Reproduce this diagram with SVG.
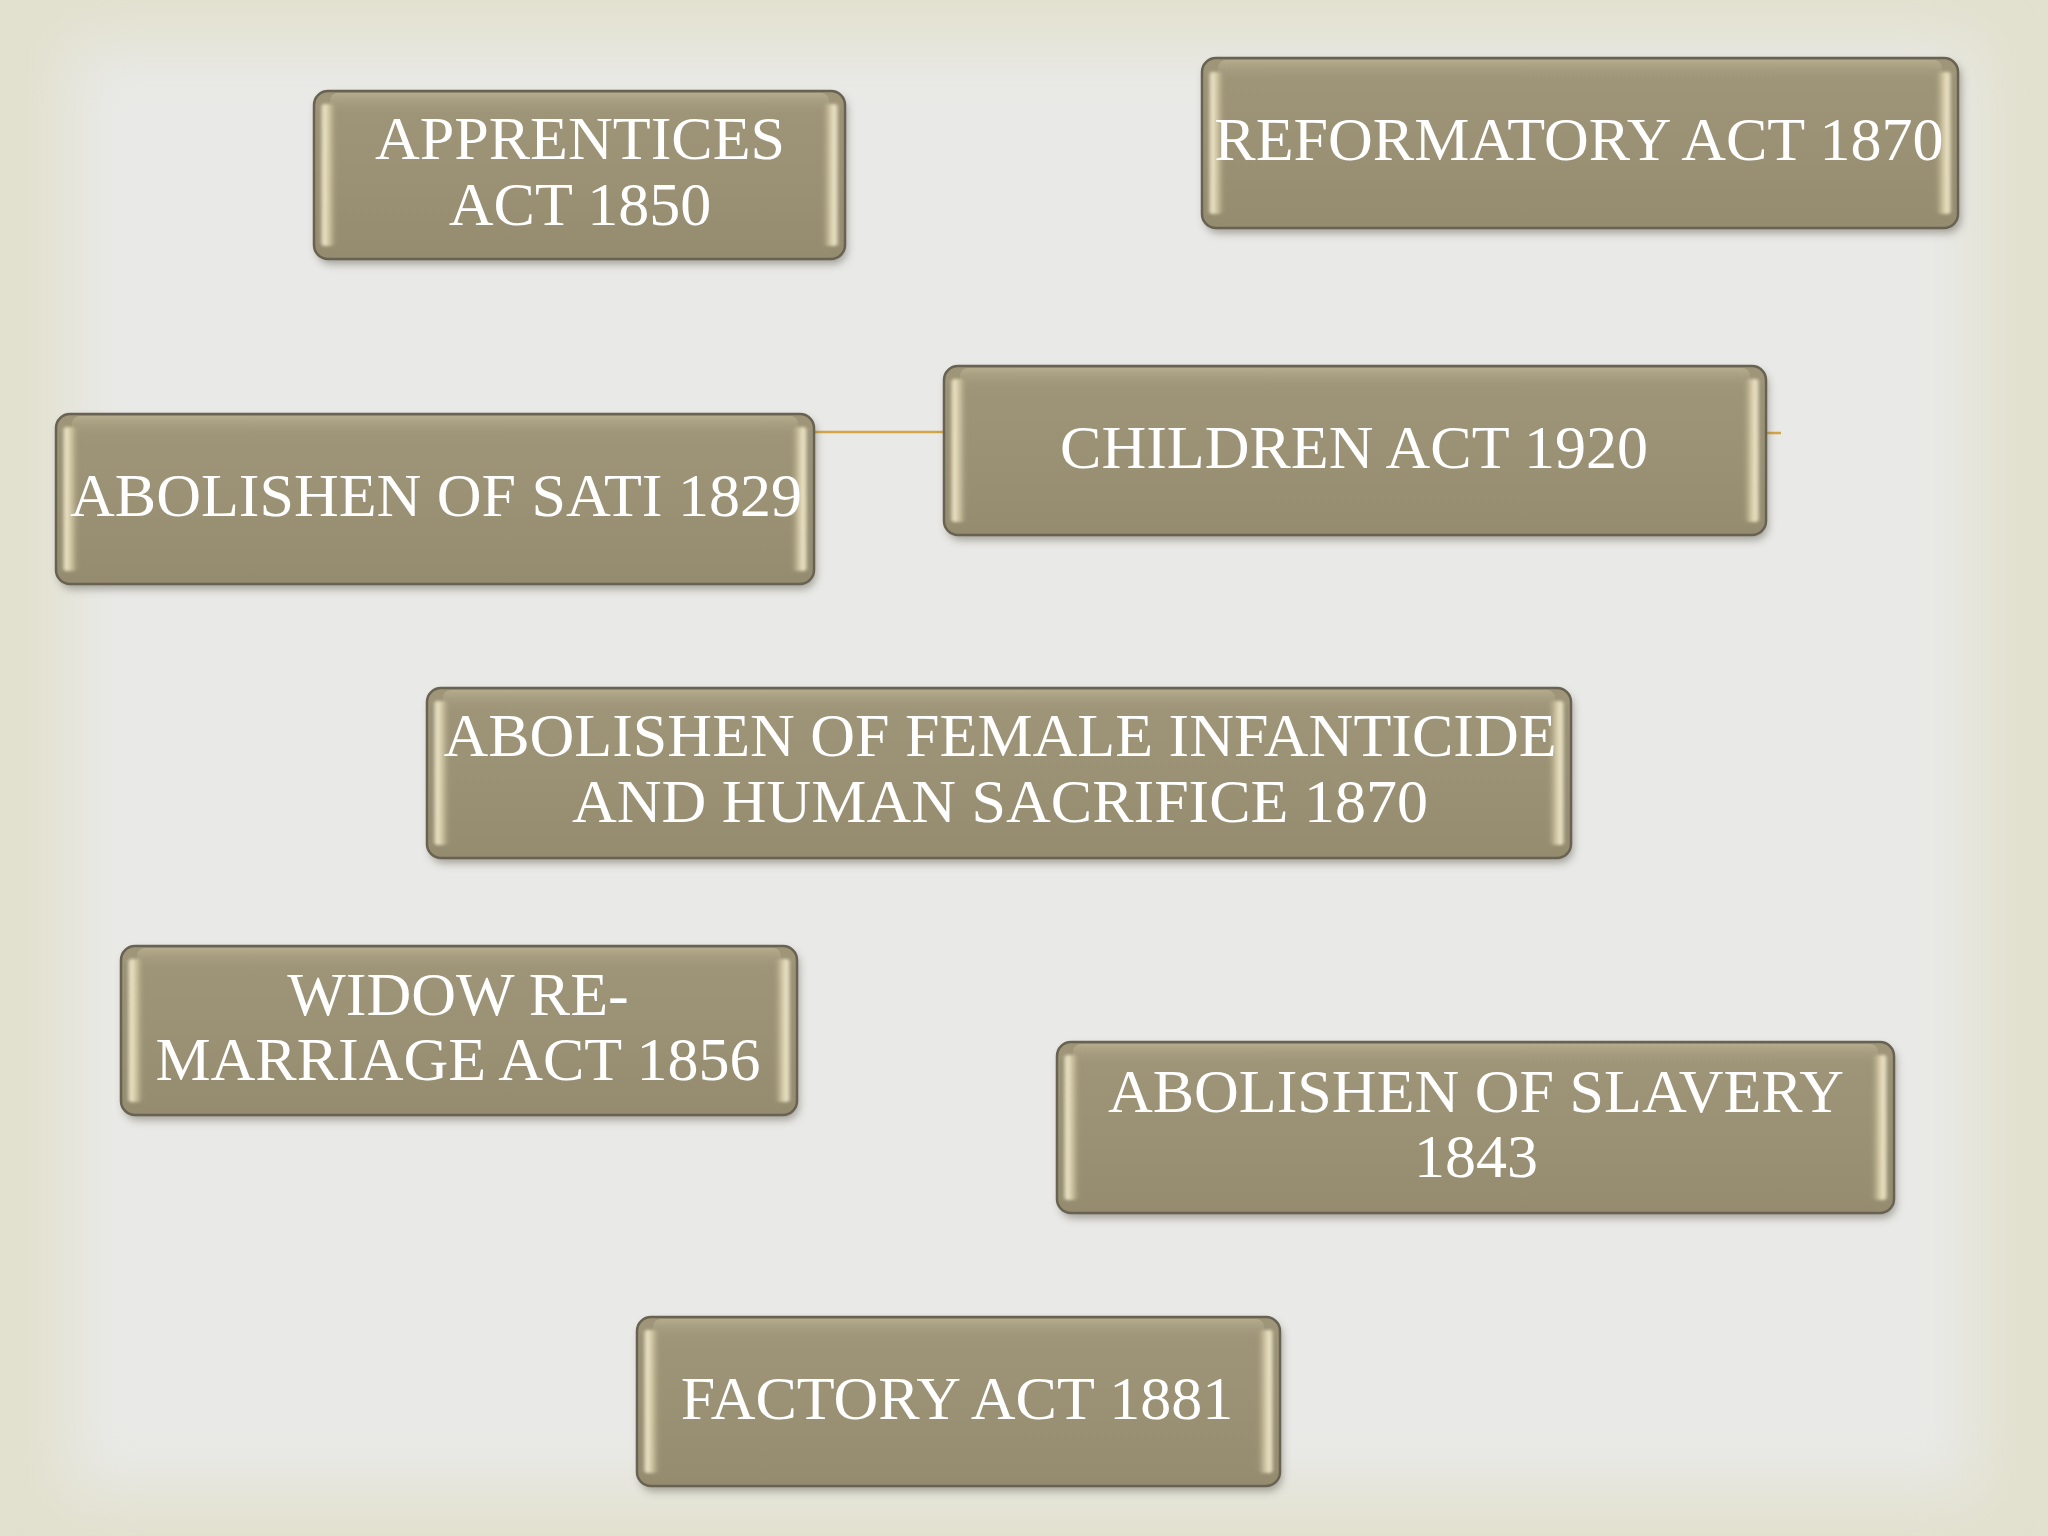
<svg xmlns="http://www.w3.org/2000/svg" width="2048" height="1536" viewBox="0 0 2048 1536">
<defs>
<filter id="bgBlur" x="-5%" y="-5%" width="110%" height="110%"><feGaussianBlur stdDeviation="30"/></filter>
<filter id="shadow" x="-5%" y="-10%" width="110%" height="130%"><feGaussianBlur stdDeviation="4"/></filter>
<filter id="soft" x="-50%" y="-5%" width="200%" height="110%"><feGaussianBlur stdDeviation="1.8"/></filter>
<linearGradient id="boxFill" x1="0" y1="0" x2="0" y2="1">
<stop offset="0" stop-color="#9f9579"/>
<stop offset="0.5" stop-color="#9b9276"/>
<stop offset="1" stop-color="#958c70"/>
</linearGradient>
<linearGradient id="bevL" x1="0" y1="0" x2="1" y2="0">
<stop offset="0" stop-color="#7f775f" stop-opacity="0.7"/>
<stop offset="0.3" stop-color="#efe7c8"/>
<stop offset="0.6" stop-color="#d3c9a6" stop-opacity="0.8"/>
<stop offset="1" stop-color="#9d9377" stop-opacity="0"/>
</linearGradient>
<linearGradient id="bevR" x1="1" y1="0" x2="0" y2="0">
<stop offset="0" stop-color="#7f775f" stop-opacity="0.7"/>
<stop offset="0.3" stop-color="#efe7c8"/>
<stop offset="0.6" stop-color="#d3c9a6" stop-opacity="0.8"/>
<stop offset="1" stop-color="#9d9377" stop-opacity="0"/>
</linearGradient>
<linearGradient id="topHi" x1="0" y1="0" x2="0" y2="1">
<stop offset="0" stop-color="#c4bb9b" stop-opacity="0.6"/>
<stop offset="1" stop-color="#a0967a" stop-opacity="0"/>
</linearGradient>
</defs>
<style>
.shadow{fill:#5a5648;opacity:0.5;filter:url(#shadow)}
.box{fill:url(#boxFill);stroke:#686253;stroke-width:2.5}
.bl{fill:url(#bevL);filter:url(#soft)}
.br{fill:url(#bevR);filter:url(#soft)}
.th{fill:url(#topHi)}
.lbl{font-family:"Liberation Serif","Times New Roman",serif;font-size:62px;fill:#ffffff;text-anchor:middle}
.conn{stroke:#d2a647;stroke-width:2.5;fill:none}
</style>
<rect width="2048" height="1536" fill="#e2e1cf"/>
<rect x="70" y="45" width="1905" height="1445" fill="#e9e9e7" filter="url(#bgBlur)"/>

<g id="connectors">
<line class="conn" x1="814" y1="432" x2="944" y2="432"/>
<line class="conn" x1="1766" y1="433" x2="1781" y2="433"/>
</g>

<g id="node-apprentices">
<rect class="shadow" x="317" y="96" width="530" height="168" rx="14"/>
<rect class="box" x="314" y="91" width="531" height="168" rx="14"/>
<rect class="th" x="330" y="93" width="499" height="22" rx="8"/>
<rect class="bl" x="318" y="104" width="20" height="142" rx="7"/>
<rect class="br" x="821" y="104" width="20" height="142" rx="7"/>
<text class="lbl" x="580" y="159">APPRENTICES</text>
<text class="lbl" x="580" y="225">ACT 1850</text>
</g>

<g id="node-reformatory">
<rect class="shadow" x="1205" y="63" width="756" height="170" rx="14"/>
<rect class="box" x="1202" y="58" width="756" height="170" rx="14"/>
<rect class="th" x="1218" y="60" width="724" height="22" rx="8"/>
<rect class="bl" x="1206" y="72" width="20" height="142" rx="7"/>
<rect class="br" x="1934" y="72" width="20" height="142" rx="7"/>
<text class="lbl" x="1579" y="160">REFORMATORY ACT 1870</text>
</g>

<g id="node-children">
<rect class="shadow" x="947" y="371" width="821" height="169" rx="14"/>
<rect class="box" x="944" y="366" width="822" height="169" rx="14"/>
<rect class="th" x="960" y="368" width="790" height="22" rx="8"/>
<rect class="bl" x="948" y="379" width="20" height="143" rx="7"/>
<rect class="br" x="1742" y="379" width="20" height="143" rx="7"/>
<text class="lbl" x="1354" y="468">CHILDREN ACT 1920</text>
</g>

<g id="node-sati">
<rect class="shadow" x="59" y="419" width="757" height="170" rx="14"/>
<rect class="box" x="56" y="414" width="758" height="170" rx="14"/>
<rect class="th" x="72" y="416" width="726" height="22" rx="8"/>
<rect class="bl" x="60" y="427" width="20" height="144" rx="7"/>
<rect class="br" x="790" y="427" width="20" height="144" rx="7"/>
<text class="lbl" x="436" y="516">ABOLISHEN OF SATI 1829</text>
</g>

<g id="node-infanticide">
<rect class="shadow" x="430" y="693" width="1143" height="170" rx="14"/>
<rect class="box" x="427" y="688" width="1144" height="170" rx="14"/>
<rect class="th" x="443" y="690" width="1112" height="22" rx="8"/>
<rect class="bl" x="431" y="701" width="20" height="144" rx="7"/>
<rect class="br" x="1547" y="701" width="20" height="144" rx="7"/>
<text class="lbl" x="1000" y="756">ABOLISHEN OF FEMALE INFANTICIDE</text>
<text class="lbl" x="1000" y="822">AND HUMAN SACRIFICE 1870</text>
</g>

<g id="node-widow">
<rect class="shadow" x="124" y="951" width="675" height="169" rx="14"/>
<rect class="box" x="121" y="946" width="676" height="169" rx="14"/>
<rect class="th" x="137" y="948" width="644" height="22" rx="8"/>
<rect class="bl" x="125" y="959" width="20" height="143" rx="7"/>
<rect class="br" x="773" y="959" width="20" height="143" rx="7"/>
<text class="lbl" x="458" y="1015">WIDOW RE-</text>
<text class="lbl" x="458" y="1080">MARRIAGE ACT 1856</text>
</g>

<g id="node-slavery">
<rect class="shadow" x="1060" y="1047" width="836" height="171" rx="14"/>
<rect class="box" x="1057" y="1042" width="837" height="171" rx="14"/>
<rect class="th" x="1073" y="1044" width="805" height="22" rx="8"/>
<rect class="bl" x="1061" y="1055" width="20" height="145" rx="7"/>
<rect class="br" x="1870" y="1055" width="20" height="145" rx="7"/>
<text class="lbl" x="1476" y="1112">ABOLISHEN OF SLAVERY</text>
<text class="lbl" x="1476" y="1177">1843</text>
</g>

<g id="node-factory">
<rect class="shadow" x="640" y="1322" width="642" height="169" rx="14"/>
<rect class="box" x="637" y="1317" width="643" height="169" rx="14"/>
<rect class="th" x="653" y="1319" width="611" height="22" rx="8"/>
<rect class="bl" x="641" y="1330" width="20" height="143" rx="7"/>
<rect class="br" x="1256" y="1330" width="20" height="143" rx="7"/>
<text class="lbl" x="957" y="1419">FACTORY ACT 1881</text>
</g>
</svg>
